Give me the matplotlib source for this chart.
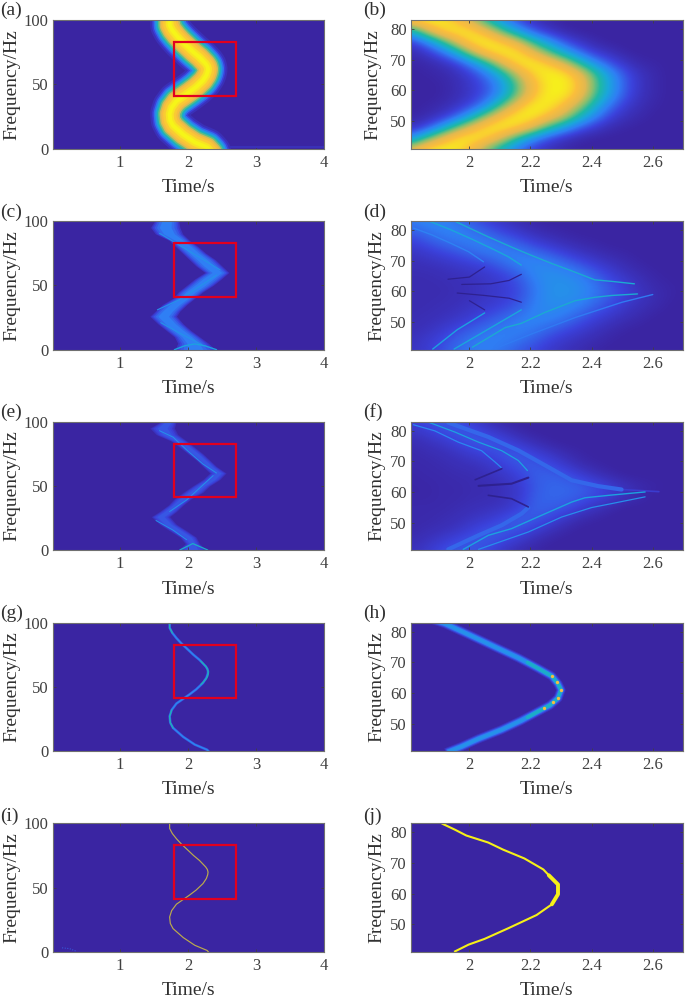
import numpy as np
import matplotlib
matplotlib.use("Agg")
import matplotlib.pyplot as plt
from matplotlib.colors import LinearSegmentedColormap
from matplotlib.patches import Rectangle

plt.rcParams['font.family'] = ['Liberation Serif', 'DejaVu Serif']

W, H = 685, 999
parula = LinearSegmentedColormap.from_list('parula', ['#3a25a2', '#3b42dc', '#2f7ff4', '#1aa6dc', '#1fb9a4',
                                                     '#8cbf6e', '#e2b850', '#fbbe3c', '#f6f518'])
BG = parula(0.0)

# ridge (a) and (g)
ridge_f = [-25, -3, 1, 5, 11, 18, 22, 27, 32, 37, 44, 48, 53, 57, 60, 62, 64, 66, 71, 75, 79, 84, 88, 92, 96, 110]
ridge_t = [2.46, 2.35, 2.28, 2.1, 1.93, 1.78, 1.74, 1.73, 1.76, 1.83, 2.02, 2.12, 2.22, 2.27, 2.29, 2.295, 2.285, 2.26,
           2.17, 2.08, 2.0, 1.9, 1.83, 1.77, 1.73, 1.73]

# ridge
zoom_f = [41.1, 43.3, 45.2, 48.7, 53, 56.5, 59.8, 63, 66, 67.9, 71.5, 74.4, 76.7, 79, 80.9, 82.6, 83.5]
zoom_t = [1.953, 1.997, 2.05, 2.128, 2.22, 2.27, 2.29, 2.29, 2.26, 2.242, 2.18, 2.11, 2.062, 1.99, 1.953, 1.917, 1.9]

# ridge
h_f = [41, 42.5, 45, 48, 51, 54, 56, 58.3, 61, 63, 65.5, 68, 71.5, 75, 79, 82.7, 84]
h_t = [1.937, 1.975, 2.03, 2.106, 2.17, 2.226, 2.264, 2.29, 2.30, 2.29, 2.27, 2.226, 2.16, 2.085, 2.0, 1.92, 1.88]

# panel (a): layer widths (px) and level
a_width = [39, 35, 32, 29, 26, 23, 20, 17, 13, 8, 4]
a_level = [0.05, 0.12, 0.22, 0.33, 0.45, 0.58, 0.72, 0.84, 0.90, 0.96, 1.0]

# panel grids for (b), (d), (f)
grid_t = [1.81, 1.86, 1.91, 1.96, 2.01, 2.06, 2.11, 2.16, 2.21, 2.26, 2.31, 2.36, 2.41, 2.46, 2.51, 2.56, 2.61, 2.66, 2.71]
grid_f = [41, 44.5, 48, 51.5, 55, 58.5, 62, 65.5, 69, 72.5, 76, 79.5, 83]

b_levels = [
    [.78, .98, 1.0, .97, .82, .58, .40, .22, .10, .05, .02, 0, 0, 0, 0, 0, 0, 0, 0],
    [.30, .55, .80, .97, 1.0, .92, .72, .48, .28, .14, .06, .02, 0, 0, 0, 0, 0, 0, 0],
    [.05, .14, .34, .60, .82, .98, 1.0, .92, .75, .52, .34, .18, .09, .03, .01, 0, 0, 0, 0],
    [.01, .03, .08, .20, .42, .68, .90, 1.0, .98, .85, .70, .46, .27, .12, .05, .02, 0, 0, 0],
    [0, .01, .03, .07, .15, .32, .60, .85, 1.0, .98, .86, .66, .42, .22, .10, .04, .01, 0, 0],
    [0, 0, .01, .04, .09, .18, .35, .62, .87, 1.0, .98, .84, .56, .33, .16, .06, .02, 0, 0],
    [0, 0, .01, .04, .09, .17, .33, .58, .84, .98, 1.0, .88, .60, .36, .18, .07, .02, 0, 0],
    [0, .01, .02, .05, .12, .25, .45, .72, .93, 1.0, .97, .82, .55, .32, .16, .06, .02, 0, 0],
    [.01, .02, .05, .12, .28, .50, .78, .97, 1.0, .90, .75, .50, .30, .16, .07, .02, .01, 0, 0],
    [.03, .08, .20, .40, .70, .92, 1.0, .97, .78, .58, .38, .22, .10, .05, .01, 0, 0, 0, 0],
    [.10, .26, .50, .78, .98, 1.0, .90, .74, .50, .32, .16, .07, .02, 0, 0, 0, 0, 0, 0],
    [.42, .72, .95, 1.0, .95, .78, .55, .34, .17, .07, .02, 0, 0, 0, 0, 0, 0, 0, 0],
    [.92, 1.0, .97, .85, .68, .46, .28, .13, .05, .02, 0, 0, 0, 0, 0, 0, 0, 0, 0],
]

d_levels = [
    [.06, .09, .14, .19, .22, .23, .20, .16, .12, .08, .05, .03, .01, 0, 0, 0, 0, 0, 0],
    [.05, .08, .12, .17, .21, .23, .23, .21, .17, .12, .08, .05, .03, .01, 0, 0, 0, 0, 0],
    [.04, .05, .08, .12, .16, .20, .22, .23, .22, .18, .14, .10, .06, .03, .01, 0, 0, 0, 0],
    [.03, .04, .05, .07, .10, .14, .18, .22, .24, .24, .21, .16, .11, .07, .04, .02, 0, 0, 0],
    [.03, .03, .04, .05, .07, .09, .12, .16, .23, .26, .25, .22, .17, .12, .07, .04, .02, 0, 0],
    [.03, .03, .03, .04, .05, .07, .09, .13, .21, .27, .28, .26, .21, .16, .11, .06, .03, .01, 0],
    [.03, .03, .03, .04, .05, .07, .09, .13, .21, .27, .28, .26, .21, .15, .10, .05, .02, .01, 0],
    [.03, .03, .04, .05, .06, .08, .11, .16, .24, .27, .26, .23, .17, .11, .06, .03, .01, 0, 0],
    [.04, .05, .06, .08, .10, .13, .18, .23, .25, .24, .20, .15, .10, .06, .03, .01, 0, 0, 0],
    [.06, .08, .11, .14, .18, .21, .23, .23, .20, .16, .11, .07, .04, .02, .01, 0, 0, 0, 0],
    [.10, .14, .18, .21, .23, .23, .20, .16, .11, .07, .04, .02, .01, 0, 0, 0, 0, 0, 0],
    [.16, .20, .23, .24, .21, .17, .12, .08, .04, .02, .01, 0, 0, 0, 0, 0, 0, 0, 0],
    [.22, .25, .24, .20, .15, .10, .06, .03, .01, 0, 0, 0, 0, 0, 0, 0, 0, 0, 0],
]

f_levels = [
    [.05, .08, .13, .16, .15, .12, .07, .03, .01, 0, 0, 0, 0, 0, 0, 0, 0, 0, 0],
    [.03, .05, .08, .12, .15, .16, .13, .09, .04, .01, 0, 0, 0, 0, 0, 0, 0, 0, 0],
    [.02, .03, .04, .06, .10, .14, .16, .15, .11, .06, .02, 0, 0, 0, 0, 0, 0, 0, 0],
    [.02, .02, .03, .04, .06, .08, .12, .17, .16, .13, .08, .03, .01, 0, 0, 0, 0, 0, 0],
    [.02, .02, .02, .03, .04, .05, .06, .10, .17, .17, .15, .11, .06, .02, 0, 0, 0, 0, 0],
    [.01, .01, .02, .02, .03, .03, .05, .08, .16, .18, .18, .16, .13, .10, .05, .02, 0, 0, 0],
    [.01, .01, .02, .02, .03, .03, .05, .08, .15, .18, .18, .17, .14, .09, .05, .02, .01, 0, 0],
    [.01, .02, .02, .03, .03, .05, .07, .11, .16, .17, .15, .10, .05, .02, 0, 0, 0, 0, 0],
    [.02, .02, .03, .04, .05, .07, .11, .15, .16, .13, .08, .03, .01, 0, 0, 0, 0, 0, 0],
    [.02, .03, .04, .06, .09, .12, .15, .16, .11, .07, .03, .01, 0, 0, 0, 0, 0, 0, 0],
    [.03, .05, .07, .11, .15, .16, .13, .08, .04, .01, 0, 0, 0, 0, 0, 0, 0, 0, 0],
    [.06, .09, .13, .16, .15, .10, .06, .02, 0, 0, 0, 0, 0, 0, 0, 0, 0, 0, 0],
    [.10, .14, .16, .13, .08, .04, .01, 0, 0, 0, 0, 0, 0, 0, 0, 0, 0, 0, 0],
]

# panels (c), (e): band limits per frequency
band_f = [-1, 5, 10, 15, 20, 26, 30, 35, 40, 45, 50, 55, 60, 65, 70, 75, 80, 85, 90, 95, 101]
c_left = [1.80, 1.85, 1.80, 1.68, 1.56, 1.44, 1.52, 1.62, 1.78, 1.86, 1.98, 2.10, 2.25, 2.12, 2.02, 1.92, 1.82, 1.72, 1.52, 1.45, 1.52]
c_right = [2.42, 2.30, 2.17, 2.04, 1.93, 1.83, 1.88, 1.98, 2.10, 2.22, 2.37, 2.49, 2.60, 2.50, 2.40, 2.26, 2.15, 2.02, 1.92, 1.88, 1.86]
e_left = [1.83, 1.96, 1.88, 1.73, 1.58, 1.46, 1.58, 1.71, 1.80, 1.93, 2.07, 2.22, 2.32, 2.22, 2.12, 2.00, 1.88, 1.75, 1.53, 1.44, 1.63]
e_right = [2.29, 2.17, 2.12, 1.98, 1.83, 1.73, 1.83, 1.93, 2.05, 2.22, 2.32, 2.47, 2.56, 2.42, 2.32, 2.22, 2.10, 1.98, 1.85, 1.80, 1.83]

# thin traces, (t list, f list, level, width)
c_traces = [
    ([1.58, 2.07, 2.47], [90.5, 75, 62], .31, 0.8),
    ([1.55, 1.88, 2.42], [31, 39, 58], .31, 0.8),
    ([1.6, 1.98, 2.2], [21, 10, 4], .31, 0.8),
    ([1.8, 1.95, 2.1, 2.25, 2.42], [0, 3, 4.5, 3, 0], .36, 1.0),
]
e_traces = [
    ([1.58, 1.78, 1.98, 2.22, 2.42], [93, 88, 78, 67, 60], .31, 0.7),
    ([1.53, 1.78, 1.98], [23, 15.5, 8], .31, 0.7),
    ([1.73, 1.98, 2.37], [30, 39, 58], .31, 0.7),
    ([1.88, 2.07, 2.29], [0, 5, 0], .42, 0.9),
]
d_traces = [
    ([1.953, 2.0, 2.06, 2.14, 2.2, 2.27, 2.33, 2.41, 2.466, 2.54], [82.9, 80.7, 77.9, 74.4, 71.9, 69.1, 66.9, 63.8, 63.3, 62.5], .40, 1.0),
    ([1.87, 1.94, 2.01, 2.084, 2.128, 2.17], [82.9, 80.1, 77, 73.5, 71.3, 68.6], .38, 1.0),
    ([1.817, 1.877, 1.94, 1.997, 2.046], [80.7, 78.5, 75.7, 73, 69.7], .26, 1.0),
    ([1.88, 1.96, 2.05], [41.2, 47.5, 53], .36, 1.0),
    ([1.95, 2.05, 2.17], [41.2, 47, 54], .38, 1.0),
    ([2.01, 2.117, 2.17, 2.248, 2.346, 2.41, 2.466, 2.55], [41.8, 48.2, 49.6, 53.2, 57, 58.1, 58.7, 59.2], .40, 1.0),
    ([2.08, 2.2, 2.346, 2.5, 2.6], [41.2, 46, 51.5, 56.5, 59], .24, 1.0),
    ([1.93, 2.0, 2.05], [64, 64.7, 68], -.1, 0.9),
    ([1.975, 2.07, 2.13, 2.17], [62.3, 62.5, 63.6, 65.6], -.1, 0.9),
    ([1.96, 2.05, 2.13, 2.17], [59.5, 58.7, 57.8, 56.5], -.1, 0.9),
    ([2.0, 2.05], [57, 54], -.1, 0.9),
]
f_traces = [
    ([2.422, 2.498, 2.62], [61.9, 60.8, 60.1], .1, 1.2),
    ([1.931, 2.062, 2.16, 2.248, 2.335, 2.422, 2.498], [82.7, 78, 73.6, 68.7, 63.8, 61.9, 60.8], .2, 3.0),
    ([1.931, 2.03, 2.106, 2.171, 2.193], [41.2, 45.8, 49.1, 52.9, 54.9], .2, 3.0),
    ([1.87, 1.953, 2.03, 2.106, 2.16, 2.19], [82.7, 79.6, 76.3, 73.5, 70.3, 67], .36, 0.9),
    ([1.817, 1.887, 1.964, 2.04, 2.084, 2.104], [82, 80, 76.3, 73.5, 69.8, 68], .28, 0.9),
    ([1.98, 2.062, 2.138, 2.237, 2.335, 2.378, 2.466, 2.575], [41.2, 45.8, 48, 52.4, 56.7, 58.1, 59, 60], .36, 1.0),
    ([2.03, 2.084, 2.193, 2.302, 2.4, 2.466, 2.575], [41.2, 43.1, 46.9, 51.8, 54.9, 56.2, 58.4], .30, 0.9),
    ([2.019, 2.106], [64, 67.6], -.1, 1.2),
    ([2.03, 2.138, 2.193], [62, 62.7, 64.7], -.1, 1.5),
    ([2.062, 2.138, 2.193], [58.9, 57.8, 55.1], -.1, 1.2),
]

# panel (h): brightest part of the tip
h_tip_f = [52, 54, 56, 58.3, 61, 63, 65.5, 68, 70]
h_tip_t = [2.19, 2.226, 2.264, 2.29, 2.30, 2.29, 2.27, 2.226, 2.19]
h_dot_f = [55, 57, 58.3, 61, 63.5, 65.5]
h_dot_t = [2.245, 2.275, 2.29, 2.30, 2.287, 2.27]

# specks at the bottom of panel (i), faint floor of panel (a)
i_speck_t = [0.15, 0.25, 0.35]
i_speck_f = [3, 2.5, 0.5]
a_floor_t = [2.3, 4]
a_floor_f = [1, 1]

left_ticks_x = [1, 2, 3, 4]
left_ticks_y = [0, 50, 100]
right_ticks_x = [2, 2.2, 2.4, 2.6]
right_ticks_x_labels = ['2', '2.2', '2.4', '2.6']
right_ticks_y = [50, 60, 70, 80]
box = (1.8, 41, 0.9, 42)

row_top = [20, 221, 421.7, 622.7, 823.3]
row_bottom = [148.7, 349.7, 550, 751, 951.7]
names = ['(a)', '(b)', '(c)', '(d)', '(e)', '(f)', '(g)', '(h)', '(i)', '(j)']
name_y = [10, 212, 412, 613, 816]
band_share = [0.0, 0.06, 0.12, 0.2, 0.3]
band_weight = [0.3, 0.5, 0.7, 0.85, 1.0]

fig = plt.figure(figsize=(W / 100, H / 100), dpi=100)


def make_axes(row, right):
    x0, x1 = (411, 683) if right else (53, 324)
    ax = fig.add_axes([x0 / W, 1 - row_bottom[row] / H, (x1 - x0) / W, (row_bottom[row] - row_top[row]) / H])
    ax.set_facecolor(BG)
    if right:
        ax.set_xticks(right_ticks_x, right_ticks_x_labels)
        ax.set_yticks(right_ticks_y)
    else:
        ax.set_xticks(left_ticks_x)
        ax.set_yticks(left_ticks_y)
        ax.add_patch(Rectangle(box[:2], box[2], box[3], fill=False, ec='#e2001f', lw=1.6, zorder=8))
    ax.tick_params(direction='in', length=2, width=0.6, top=True, right=True, labelsize=12, colors='#404040')
    ax.tick_params(axis='x', pad=4.5)
    ax.tick_params(axis='y', pad=3)
    for s in ax.spines.values():
        s.set_color('#707070')
        s.set_linewidth(0.8)
    ax.set_xlabel('Time/s', fontsize=14, color='#303030')
    ax.xaxis.set_label_coords(0.5, -39 / (row_bottom[row] - row_top[row]), transform=ax.transAxes)
    ax.xaxis.label.set_va('center')
    ax.set_ylabel('Frequency/Hz', fontsize=14, color='#303030')
    offset = 41
    if right:
        offset = 38 if row == 0 else 34
    ax.yaxis.set_label_coords(-offset / (x1 - x0), 0.5, transform=ax.transAxes)
    ax.yaxis.label.set_va('center')
    return ax


def set_limits(ax, right):
    if right:
        ax.set_xlim(1.809, 2.699)
        ax.set_ylim(41, 83)
    else:
        ax.set_xlim(0.015, 4)
        ax.set_ylim(0, 100)


def heat(ax, levels, vmax=1.0):
    dt = 0.025
    df = 1.75
    ax.imshow(levels, origin='lower', aspect='auto', cmap=parula, vmin=0, vmax=vmax, interpolation='bicubic',
              extent=[grid_t[0] - dt, grid_t[-1] + dt, grid_f[0] - df, grid_f[-1] + df])


def traces(ax, items):
    for t, f, lev, lw in items:
        col = '#2e2190' if lev < 0 else parula(lev)
        ax.plot(t, f, color=col, lw=lw, solid_capstyle='round', solid_joinstyle='round')


def band(ax, left, right, top_level):
    left = np.array(left)
    right = np.array(right)
    for share, weight in zip(band_share, band_weight):
        ax.fill_betweenx(band_f, left + share * (right - left), right - share * (right - left),
                         color=parula(top_level * weight), lw=0)


# (a)
ax = make_axes(0, False)
ax.plot(a_floor_t, a_floor_f, color=parula(0.05), lw=1.5)
for w, lev in zip(a_width, a_level):
    ax.plot(ridge_t, ridge_f, color=parula(lev), lw=w * 0.72, solid_joinstyle='round', solid_capstyle='butt')
set_limits(ax, False)
# (b)
ax = make_axes(0, True)
heat(ax, b_levels)
set_limits(ax, True)
# (c)
ax = make_axes(1, False)
band(ax, c_left, c_right, 0.25)
traces(ax, c_traces)
set_limits(ax, False)
# (d)
ax = make_axes(1, True)
heat(ax, d_levels, 0.9)
traces(ax, d_traces)
set_limits(ax, True)
# (e)
ax = make_axes(2, False)
band(ax, e_left, e_right, 0.17)
traces(ax, e_traces)
set_limits(ax, False)
# (f)
ax = make_axes(2, True)
heat(ax, f_levels, 0.9)
traces(ax, f_traces)
set_limits(ax, True)
# (g)
ax = make_axes(3, False)
ax.plot(ridge_t, ridge_f, color=parula(0.16), lw=1.9, solid_joinstyle='round')
ax.plot(ridge_t, ridge_f, color=parula(0.28), lw=1.0, solid_joinstyle='round')
ax.plot(h_tip_t, h_tip_f, color=parula(0.48), lw=0.8, solid_joinstyle='round')
ax.plot(ridge_t[5:9], ridge_f[5:9], color=parula(0.48), lw=0.8, solid_joinstyle='round')
ax.plot(ridge_t[-3:], ridge_f[-3:], color=parula(0.48), lw=0.8, solid_joinstyle='round')
set_limits(ax, False)
# (h)
ax = make_axes(3, True)
for w, lev in zip([9, 7, 5, 3], [0.07, 0.16, 0.25, 0.31]):
    ax.plot(h_t, h_f, color=parula(lev), lw=w * 0.72, solid_joinstyle='round')
ax.plot(h_tip_t, h_tip_f, color=parula(0.42), lw=2.6, solid_joinstyle='round', solid_capstyle='round')
ax.plot(h_dot_t, h_dot_f, ls='none', marker='o', ms=2.4, mec='none', color=parula(0.85))
set_limits(ax, True)
# (i)
ax = make_axes(4, False)
ax.plot(ridge_t, ridge_f, color='#bcab4c', lw=0.85, solid_joinstyle='round')
ax.plot(i_speck_t, i_speck_f, color=parula(0.2), lw=0.7, ls=':')
set_limits(ax, False)
# (j)
ax = make_axes(4, True)
ax.plot(zoom_t, zoom_f, color='#f6f018', lw=1.5, solid_joinstyle='round')
ax.plot(zoom_t[5:9], zoom_f[5:9], color='#f6f018', lw=2.8, solid_capstyle='round', solid_joinstyle='round')
set_limits(ax, True)

for i, label in enumerate(names):
    right = i % 2
    fig.text((363 if right else 0) / W, 1 - name_y[i // 2] / H, label, fontsize=14, color='#303030', va='center')

fig.savefig('out.png', dpi=100)
